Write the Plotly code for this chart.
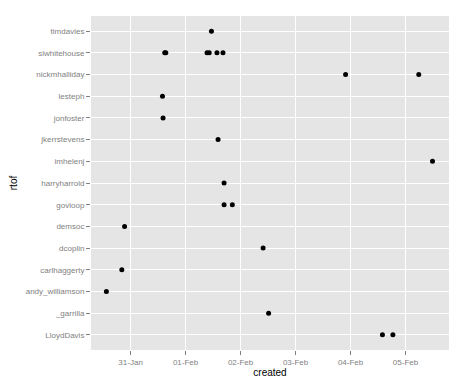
import plotly.graph_objects as go

categories = ["LloydDavis", "_garrilla", "andy_williamson", "carlhaggerty", "dcoplin",
              "demsoc", "govloop", "harryharrold", "imhelenj", "jkerrstevens",
              "jonfoster", "lesteph", "nickmhalliday", "siwhitehouse", "timdavies"]

rtof = ["timdavies",
        "siwhitehouse", "siwhitehouse", "siwhitehouse", "siwhitehouse", "siwhitehouse", "siwhitehouse",
        "nickmhalliday", "nickmhalliday",
        "lesteph", "jonfoster", "jkerrstevens", "imhelenj", "harryharrold",
        "govloop", "govloop", "demsoc", "dcoplin", "carlhaggerty", "andy_williamson",
        "_garrilla", "LloydDavis", "LloydDavis"]

created = ["2010-02-01 11:17",
           "2010-01-31 14:53", "2010-01-31 15:22", "2010-02-01 09:22", "2010-02-01 10:19",
           "2010-02-01 13:41", "2010-02-01 16:19",
           "2010-02-03 21:50", "2010-02-05 05:46",
           "2010-01-31 13:55", "2010-01-31 14:10", "2010-02-01 14:10", "2010-02-05 11:46",
           "2010-02-01 16:48",
           "2010-02-01 16:48", "2010-02-01 20:24", "2010-01-30 21:22", "2010-02-02 09:50",
           "2010-01-30 20:10", "2010-01-30 13:26",
           "2010-02-02 12:14", "2010-02-04 13:55", "2010-02-04 18:29"]

tick_vals = ["2010-01-31", "2010-02-01", "2010-02-02", "2010-02-03", "2010-02-04", "2010-02-05"]
tick_text = ["31-Jan", "01-Feb", "02-Feb", "03-Feb", "04-Feb", "05-Feb"]

fig = go.Figure(go.Scatter(
    x=created, y=rtof, mode="markers",
    marker=dict(color="black", size=5),
))

# page body has an 8px default margin, so the figure is sized/offset to compensate
fig.update_layout(
    width=466, height=379,
    margin=dict(l=83, r=25, t=8, b=37),
    paper_bgcolor="white",
    plot_bgcolor="#e5e5e5",
    font=dict(family="Liberation Sans, Arial, sans-serif", color="black"),
    showlegend=False,
)

fig.update_xaxes(
    type="date",
    range=["2010-01-30 06:43", "2010-02-05 18:58"],
    tickvals=tick_vals, ticktext=tick_text,
    tickfont=dict(size=8, color="#7f7f7f"),
    ticks="outside", ticklen=4, tickcolor="#7f7f7f", tickwidth=1,
    showgrid=True, gridcolor="white", gridwidth=1,
    zeroline=False, showline=False, automargin=False,
    title=dict(text="created", font=dict(size=10, color="black"), standoff=2),
)

fig.update_yaxes(
    type="category",
    categoryorder="array", categoryarray=categories,
    range=[-0.7, 14.7],
    tickfont=dict(size=8, color="#7f7f7f"),
    ticks="outside", ticklen=4, tickcolor="#7f7f7f", tickwidth=1,
    showgrid=True, gridcolor="white", gridwidth=1,
    zeroline=False, showline=False, automargin=False,
    title=dict(text="rtof", font=dict(size=10, color="black"), standoff=10),
)

fig.write_html("out.html")
